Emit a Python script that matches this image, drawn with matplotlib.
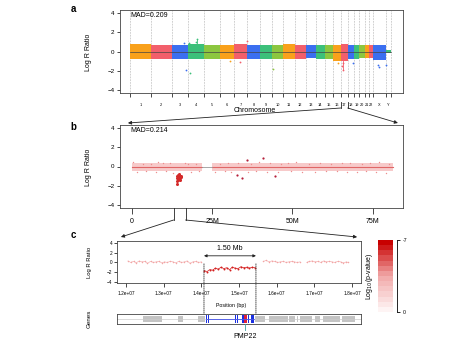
"""
Genome-wide log R ratio view (a), zoom on chr17 (b) and the 1.5 Mb PMP22 deletion (c).
"""

import numpy as np
import matplotlib
matplotlib.use("Agg")
import matplotlib.pyplot as plt
import matplotlib.transforms as mtransforms
from matplotlib.patches import ConnectionPatch, Rectangle
from matplotlib.lines import Line2D
from matplotlib.colors import LinearSegmentedColormap

plt.rcParams["font.family"] = ["Liberation Sans", "DejaVu Sans"]

# ── data: panel a (whole genome) ─────────────────────────────────────────────
chrom_names = ["1", "2", "3", "4", "5", "6", "7", "8", "9", "10", "11", "12",
               "13", "14", "15", "16", "17", "18", "19", "20", "21", "22", "X", "Y"]
chrom_len_mb = [249.3, 243.2, 198.0, 191.2, 180.9, 171.1, 159.1, 146.4, 141.2, 135.5,
                135.0, 133.9, 115.2, 107.3, 102.5, 90.4, 81.2, 78.1, 59.1, 63.0,
                48.1, 51.3, 155.3, 59.4]
band_hi = [0.75, 0.72, 0.7, 0.75, 0.7, 0.72, 0.75, 0.7, 0.68, 0.72, 0.75, 0.72,
           0.65, 0.7, 0.68, 0.72, 0.75, 0.7, 0.7, 0.68, 0.65, 0.65, 0.7, 0.15]
band_lo = [-0.8, -0.78, -0.8, -0.78, -0.8, -0.78, -0.82, -0.75, -0.8, -0.82, -0.8, -0.78,
           -0.72, -0.78, -0.8, -1.0, -1.0, -0.8, -0.75, -0.7, -0.7, -0.7, -0.85, -0.15]
palette = ["#F9A11B", "#F25F6B", "#3B6FF0", "#3CC07A", "#8CC63F"]
a_out_pos = [664, 712, 640, 700, 791, 788, 1388, 1300, 1692, 1180, 2510, 2522, 2530, 2470,
             2640, 2945, 2950, 3030]
a_out_val = [-1.9, -2.2, 0.9, 0.85, 1.3, 0.95, 1.1, -1.05, -1.85, -1.0, -1.5, -1.9, -1.2,
             -1.2, -1.2, -1.45, -1.65, -1.4]
mad_a = "MAD=0.209"

# ── data: panel b (chr17) ────────────────────────────────────────────────────
b_seg_start = [0.0, 25.0]
b_seg_end = [21.8, 81.2]
b_up_pos = [0.3, 3.5, 6.0, 8.2, 9.8, 12.0, 16.5, 17.5, 20.1, 27.5, 30.0, 33.0, 37.0, 39.5,
            43.0, 46.5, 48.5, 51.0, 55.0, 58.5, 62.0, 65.5, 68.0, 71.5, 74.0, 77.0, 80.0]
b_up_val = [0.5, 0.3, 0.25, 0.45, 0.35, 0.4, 0.35, 0.3, 0.25, 0.3, 0.35, 0.4, 0.3, 0.45,
            0.35, 0.3, 0.4, 0.45, 0.3, 0.35, 0.3, 0.4, 0.35, 0.3, 0.4, 0.45, 0.3]
b_lo_pos = [1.5, 4.5, 7.5, 10.5, 12.8, 18.5, 21.0, 26.0, 29.0, 31.0, 36.0, 38.5, 42.0,
            45.5, 49.5, 53.0, 57.0, 60.5, 64.0, 67.0, 70.0, 73.0, 76.0, 79.0]
b_lo_val = [-0.6, -0.5, -0.55, -0.45, -0.7, -0.55, -0.5, -0.6, -0.5, -0.55, -0.6, -0.5,
            -0.55, -0.6, -0.5, -0.55, -0.6, -0.5, -0.45, -0.55, -0.6, -0.5, -0.55, -0.65]
b_out_pos = [35.8, 40.8, 32.7, 34.2, 44.5]
b_out_val = [0.7, 0.85, -0.9, -1.15, -0.95]
b_del_pos = [13.9, 14.0, 14.1, 14.2, 14.3, 14.4, 14.5, 14.6, 14.7, 14.8, 14.9, 15.0, 15.1,
             15.2, 15.3]
b_del_val = [-1.8, -1.2, -1.5, -1.0, -1.3, -0.9, -1.4, -1.1, -1.25, -0.8, -1.35, -1.0,
             -1.2, -0.95, -1.1]
mad_b = "MAD=0.214"
b_ticks = [0, 25, 50, 75]
b_ticklabels = ["0", "25M", "50M", "75M"]
zoom_lo, zoom_hi = 13.0, 16.7

# ── data: panel c (PMP22 region, Mb) ─────────────────────────────────────────
c_pos_left = [12.05, 12.12, 12.2, 12.27, 12.35, 12.42, 12.5, 12.57, 12.65, 12.72, 12.8,
              12.87, 12.95, 13.02, 13.1, 13.17, 13.25, 13.32, 13.4, 13.47, 13.55, 13.62,
              13.7, 13.77, 13.85, 13.92, 14.0]
c_val_left = [0.3, 0.0, 0.2, -0.1, 0.3, 0.1, 0.2, -0.2, 0.2, 0.0, 0.1, 0.2, -0.1, 0.1,
              0.0, 0.2, 0.1, -0.1, 0.2, 0.0, 0.1, 0.3, -0.2, 0.1, 0.2, 0.0, 0.1]
c_pos_del = [14.08, 14.15, 14.22, 14.3, 14.37, 14.45, 14.52, 14.6, 14.67, 14.75, 14.82,
             14.9, 14.97, 15.05, 15.12, 15.2, 15.27, 15.35, 15.43]
c_val_del = [-1.7, -1.9, -1.5, -1.6, -1.2, -1.4, -1.0, -1.3, -1.1, -1.5, -1.0, -1.2,
             -1.3, -0.9, -1.1, -1.0, -1.2, -1.0, -1.1]
c_pos_r1 = [15.65, 15.72, 15.8, 15.87, 15.95, 16.02, 16.1, 16.17, 16.25, 16.32, 16.4,
            16.47, 16.55, 16.62]
c_val_r1 = [0.2, 0.4, 0.1, 0.3, 0.2, 0.0, 0.1, 0.2, 0.0, 0.1, 0.2, 0.1, 0.0, 0.1]
c_pos_r2 = [16.8, 16.87, 16.95, 17.02, 17.1, 17.17, 17.25, 17.32, 17.4, 17.47, 17.55,
            17.62, 17.7, 17.77, 17.85, 17.9]
c_val_r2 = [0.0, 0.2, 0.3, 0.1, 0.2, 0.0, 0.3, 0.1, 0.2, 0.1, 0.0, 0.2, 0.1, -0.1, 0.1, 0.0]
del_start, del_end = 14.07, 15.45
del_label = "1.50 Mb"
c_ticks = [12, 13, 14, 15, 16, 17, 18]
c_ticklabels = ["1.2e+07", "1.3e+07", "1.4e+07", "1.5e+07", "1.6e+07", "1.7e+07", "1.8e+07"]

gray_start = [12.45, 13.38, 13.91, 15.42, 15.79, 16.32, 16.53, 16.62, 17.01, 17.23, 17.73]
gray_end = [12.95, 13.51, 14.10, 15.69, 16.30, 16.48, 16.56, 16.93, 17.15, 17.68, 18.07]
blue_start = [14.12, 14.17, 14.89, 14.95, 15.09, 15.23, 15.32]
blue_end = [14.15, 14.21, 14.92, 14.98, 15.12, 15.26, 15.40]
pmp22_start, pmp22_end = 15.13, 15.21

pval_min, pval_max = 0, -7


# ── layout helpers (pixel boxes of the 474x339 canvas) ───────────────────────
W, H = 474, 339

def fx(px):
    return px / W

def fy(py):
    return 1 - py / H

def box(l, t, r, b):
    return [fx(l), fy(b), (r - l) / W, (b - t) / H]


fig = plt.figure(figsize=(W / 100, H / 100), dpi=100)
ax_a = fig.add_axes(box(120, 10, 403, 93))
ax_b = fig.add_axes(box(120, 125, 403, 208))
ax_c = fig.add_axes(box(117, 241, 361, 283))
ax_g = fig.add_axes(box(117, 314, 361, 324))
ax_cb = fig.add_axes(box(378, 240, 393, 312))

for ax in (ax_a, ax_b, ax_c, ax_g):
    for s in ax.spines.values():
        s.set_linewidth(0.6)
        s.set_color("#444444")

# ── panel a ──────────────────────────────────────────────────────────────────
ends = np.cumsum(chrom_len_mb)
starts = ends - np.array(chrom_len_mb)
mids = (starts + ends) / 2
total = ends[-1]

for i in range(len(chrom_names)):
    col = palette[i % 5]
    ax_a.fill_between([starts[i], ends[i]], band_lo[i], band_hi[i], color=col, lw=0)

for p, v in zip(a_out_pos, a_out_val):
    i = int(np.searchsorted(ends, p))
    ax_a.plot([p], [v], "o", ms=1.3, color=palette[i % 5], mec="none")
ax_a.plot([791, 791], [0.7, 1.3], color=palette[3], lw=0.6)
ax_a.plot([2522, 2522], [-1.0, -1.9], color=palette[1], lw=0.6)
ax_a.plot([0, total], [0, 0], color="#444444", lw=0.5)

for b in np.concatenate([starts, [total]]):
    ax_a.axvline(b, color="#8a8a8a", ls=(0, (1, 1.5)), lw=0.45, zorder=0)

ax_a.set_xlim(-119, 3237)
ax_a.set_ylim(-4.3, 4.3)
ax_a.set_yticks([-4, -2, 0, 2, 4])
ax_a.set_xticks(np.concatenate([starts, [total]]))
ax_a.set_xticklabels([])
ax_a.set_xticks(mids, minor=True)
ax_a.set_xticklabels(chrom_names, minor=True)
ax_a.tick_params(axis="x", which="major", length=3, width=0.5)
ax_a.tick_params(axis="x", which="minor", length=0, pad=7, labelsize=2.8)
ax_a.tick_params(axis="y", length=2.5, width=0.5, labelsize=4.5, pad=1.5)
ax_a.text(0.035, 0.93, mad_a, transform=ax_a.transAxes, fontsize=5, va="center")
fig.text(fx(255), fy(110), "Chromosome", fontsize=5, ha="center", va="center")
fig.text(fx(88), fy(52), "Log R Ratio", fontsize=5, rotation=90, ha="center", va="center")

# ── panel b ──────────────────────────────────────────────────────────────────
for s0, s1 in zip(b_seg_start, b_seg_end):
    ax_b.fill_between([s0, s1], -0.45, 0.38, color="#F7CACA", lw=0)
    ax_b.plot([s0, s1], [0, 0], color="#E06666", lw=0.8)
ax_b.plot([b_seg_end[0], b_seg_start[1]], [0, 0], color="#999999", lw=0.6)
ax_b.plot(b_up_pos, b_up_val, "o", ms=1.0, color="#EE8E8E", mec="none")
ax_b.plot(b_lo_pos, b_lo_val, "o", ms=1.0, color="#EE8E8E", mec="none")
ax_b.plot(b_out_pos, b_out_val, "o", ms=1.6, color="#B5203A", mec="none")
ax_b.plot(b_del_pos, b_del_val, "o", ms=2.2, color="#D42A2A", mec="none")
ax_b.set_xlim(-3.7, 84.4)
ax_b.set_ylim(-4.3, 4.3)
ax_b.set_yticks([-4, -2, 0, 2, 4])
ax_b.set_xticks(b_ticks)
ax_b.set_xticklabels(b_ticklabels)
ax_b.tick_params(axis="x", length=4, width=0.5, labelsize=5, pad=3)
ax_b.tick_params(axis="y", length=2.5, width=0.5, labelsize=4.5, pad=1.5)
ax_b.text(0.035, 0.93, mad_b, transform=ax_b.transAxes, fontsize=5, va="center")
fig.text(fx(88), fy(167), "Log R Ratio", fontsize=5, rotation=90, ha="center", va="center")

# ── panel c ──────────────────────────────────────────────────────────────────
for pos, val in [(c_pos_left, c_val_left), (c_pos_r1, c_val_r1), (c_pos_r2, c_val_r2)]:
    ax_c.plot(pos, val, "-o", color="#F2A5A5", lw=0.4, ms=1.1, mec="none")
ax_c.plot(c_pos_del, c_val_del, "-o", color="#D42020", lw=0.5, ms=1.4, mec="none")
ax_c.annotate("", xy=(del_start, 1.35), xytext=(del_end, 1.35),
              arrowprops=dict(arrowstyle="<|-|>", lw=0.6, color="#222222",
                              mutation_scale=4, shrinkA=0, shrinkB=0))
ax_c.text((del_start + del_end) / 2, 2.9, del_label, fontsize=5, ha="center", va="center")
ax_c.set_xlim(11.76, 18.24)
ax_c.set_ylim(-4.25, 4.4)
ax_c.set_yticks([-4, -2, 0, 2, 4])
ax_c.set_xticks(c_ticks)
ax_c.set_xticklabels(c_ticklabels)
ax_c.tick_params(axis="x", length=3, width=0.5, labelsize=3.4, pad=3)
ax_c.tick_params(axis="y", length=2, width=0.5, labelsize=3.4, pad=1.2)
fig.text(fx(231), fy(306), "Position (bp)", fontsize=3.8, ha="center", va="center")
fig.text(fx(89), fy(262), "Log R Ratio", fontsize=4.2, rotation=90, ha="center", va="center")

# genes track
ax_g.plot([11.76, 18.24], [0.5, 0.5], color="#cccccc", lw=0.5)
ax_g.plot([blue_start[0], blue_end[-1]], [0.5, 0.5], color="#2233EE", lw=0.5)
for s0, s1 in zip(gray_start, gray_end):
    ax_g.add_patch(Rectangle((s0, 0.2), s1 - s0, 0.6, color="#C4C4C4", lw=0))
for s0, s1 in zip(blue_start, blue_end):
    ax_g.add_patch(Rectangle((s0, 0.1), s1 - s0, 0.8, color="#1A2FE0", lw=0))
ax_g.add_patch(Rectangle((pmp22_start, 0.1), pmp22_end - pmp22_start, 0.8,
                         color="#E0203A", lw=0))
ax_g.set_xlim(11.76, 18.24)
ax_g.set_ylim(0, 1)
ax_g.set_xticks([])
ax_g.set_yticks([])
pm = (pmp22_start + pmp22_end) / 2
trans_g = mtransforms.blended_transform_factory(ax_g.transData, fig.transFigure)
fig.add_artist(Line2D([pm, pm], [fy(324), fy(330)], transform=trans_g, color="#3AA0A0", lw=0.6))
fig.text(fx(245), fy(336), "PMP22", fontsize=5, ha="center", va="center")
fig.text(fx(89), fy(319), "Genes", fontsize=4.5, rotation=90, ha="center", va="center")

# dotted lines marking the deletion down to the genes track
trans_gx = mtransforms.blended_transform_factory(ax_g.transData, ax_g.transAxes)
for x in (del_start, del_end):
    fig.add_artist(ConnectionPatch(xyA=(x, -0.3), coordsA=ax_c.transData,
                                   xyB=(x, 1.0), coordsB=trans_gx,
                                   ls=(0, (1.2, 1.2)), lw=0.6, color="#333333"))

# colour scale
cmap = LinearSegmentedColormap.from_list("pv", ["#FEF4F4", "#F2A8A8", "#C80000"])
levels = np.linspace(0, 1, 14).reshape(-1, 1)
ax_cb.imshow(levels, cmap=cmap, origin="lower", aspect="auto",
             extent=[0, 1, 0, 7], interpolation="nearest")
ax_cb.set_xlim(0, 1)
ax_cb.set_ylim(0, 7)
ax_cb.set_xticks([])
for k in ("top", "bottom", "left"):
    ax_cb.spines[k].set_visible(False)
ax_cb.spines["right"].set_position(("outward", 3))
ax_cb.spines["right"].set_linewidth(0.6)
ax_cb.yaxis.tick_right()
ax_cb.set_yticks([0, 7])
ax_cb.set_yticklabels([str(pval_min), str(pval_max)])
ax_cb.tick_params(axis="y", length=2.5, width=0.6, labelsize=3.8, pad=1.5)
ax_cb.yaxis.set_label_position("left")
ax_cb.set_ylabel("Log$_{10}$(p-value)", fontsize=5, labelpad=2)

# ── connectors between panels ───────────────────────────────────────────────
s17, e17 = starts[16], ends[16]
trans_a = mtransforms.blended_transform_factory(ax_a.transData, fig.transFigure)
for x, tip in [(s17, 0.028), (e17, 0.982)]:
    fig.add_artist(Line2D([x, x], [fy(102), fy(108)], transform=trans_a, color="#222222", lw=0.6))
    fig.add_artist(ConnectionPatch(xyA=(x, fy(108)), coordsA=trans_a,
                                   xyB=(tip, 1.024), coordsB=ax_b.transAxes,
                                   arrowstyle="-|>", mutation_scale=5, lw=0.6,
                                   color="#222222", shrinkA=0, shrinkB=0))

trans_b = mtransforms.blended_transform_factory(ax_b.transData, fig.transFigure)
for x, tip in [(zoom_lo, 0.016), (zoom_hi, 0.984)]:
    fig.add_artist(Line2D([x, x], [fy(208), fy(220)], transform=trans_b, color="#222222", lw=0.6))
    fig.add_artist(ConnectionPatch(xyA=(x, fy(220)), coordsA=trans_b,
                                   xyB=(tip, 1.095), coordsB=ax_c.transAxes,
                                   arrowstyle="-|>", mutation_scale=5, lw=0.6,
                                   color="#222222", shrinkA=0, shrinkB=0))

# panel letters
for lab, (px, py) in zip("abc", [(73, 9), (73, 127), (73, 235)]):
    fig.text(fx(px), fy(py), lab, fontsize=7, fontweight="bold", ha="center", va="center")

plt.savefig("out.png", dpi=100)
plt.close()
